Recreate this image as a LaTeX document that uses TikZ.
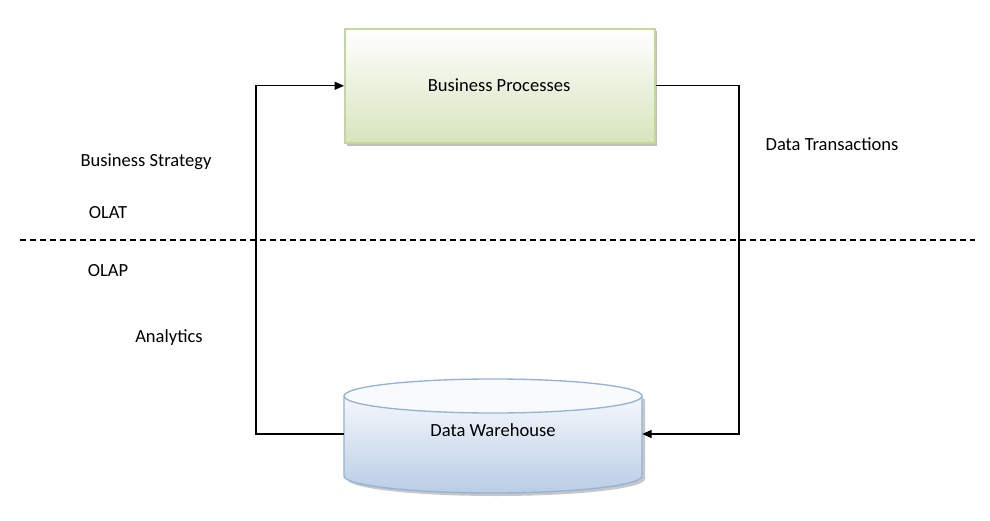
\documentclass[tikz,border=0pt]{standalone}
\usepackage{fontspec}
\setmainfont{Carlito}
\usetikzlibrary{arrows.meta}
\definecolor{gborder}{HTML}{C3D69B}
\definecolor{gfill}{HTML}{D7E4BD}
\definecolor{bborder}{HTML}{95B3D7}
\definecolor{bfill}{HTML}{B9CDE5}
\tikzset{
  lbl/.style={font=\fontsize{13.9}{16}\selectfont, inner sep=0},
  conn/.style={line width=0.8pt, -{Triangle[length=7pt,width=6pt]}},
}
\begin{document}
\begin{tikzpicture}[x=0.75pt,y=-0.75pt]
\useasboundingbox (0,0) rectangle (990,521);
\fill[white] (0,0) rectangle (990,521);
% box shadow
\fill[black!25] (347,31) rectangle (657,146);
\node[draw=gborder, line width=1.2pt, top color=white, bottom color=gfill, minimum width=232.5pt, minimum height=85.5pt, inner sep=0, anchor=north west] (bp) at (344,28) {};
\node[lbl] (bptext) at (499,85) {Business Processes};
% cylinder
\fill[black!22] (347,399) -- (347,479) arc[start angle=180,end angle=0,x radius=149,y radius=17] -- (645,399) -- cycle;
\path[top color=white, bottom color=bfill] (344,396) -- (344,476) arc[start angle=180,end angle=0,x radius=149,y radius=17] -- (642,396) arc[start angle=0,end angle=-180,x radius=149,y radius=17] -- cycle;
\draw[bborder, line width=1pt] (344,396) -- (344,476) arc[start angle=180,end angle=0,x radius=149,y radius=17] -- (642,396);
\draw[bborder, line width=1pt, fill=white!90!bfill] (493,396) ellipse[x radius=149, y radius=17];
\node[minimum width=223.5pt, minimum height=10pt, inner sep=0] (dw) at (493,434) {};
\node[lbl] (dwtext) at (493,430) {Data Warehouse};
% connectors
\coordinate (l) at (256,434);
\coordinate (rb) at (739,434);
\draw[conn] (dw.west) -- (l) -- (l |- bp.west) -- (bp.west);
\draw[conn] (bp.east) -- (rb |- bp.east) -- (rb) -- (dw.east);
% dashed line
\coordinate (d1) at (20,240);
\coordinate (d2) at (975,240);
\draw[line width=0.9pt, dash pattern=on 4.5pt off 3pt] (d1) -- (d2);
% labels
\node[lbl] (bs) at (146,162) {Business Strategy};
\node[lbl] (olat) at (108,213) {OLAT};
\node[lbl] (olap) at (108,271) {OLAP};
\node[lbl] (an) at (169,338) {Analytics};
\node[lbl] (dt) at (832,144) {Data Transactions};
\end{tikzpicture}
\end{document}
